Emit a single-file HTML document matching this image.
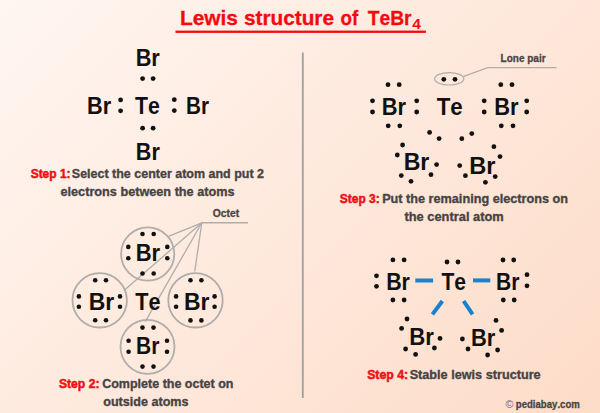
<!DOCTYPE html>
<html><head><meta charset="utf-8"><style>
html,body{margin:0;padding:0;}
body{width:600px;height:413px;overflow:hidden;background:linear-gradient(125deg,#fff7f3 0%,#fde0cf 100%);}
svg{display:block;font-family:"Liberation Sans",sans-serif;font-kerning:none;}
</style></head><body>
<svg width="600" height="413" viewBox="0 0 600 413">
<defs><linearGradient id="bg" x1="0" y1="0" x2="506" y2="506" gradientUnits="userSpaceOnUse">
<stop offset="0" stop-color="#fff6f1"/><stop offset="1" stop-color="#fddcc8"/></linearGradient></defs>
<rect width="600" height="413" fill="url(#bg)"/>
<text x="179.90" y="24.70" font-size="21" font-weight="bold" textLength="57.95" lengthAdjust="spacingAndGlyphs"><tspan fill="#f50a0f" stroke="#f50a0f" stroke-width="0.3" stroke-linejoin="round">Lewis</tspan></text>
<text x="243.97" y="24.70" font-size="21" font-weight="bold" textLength="90.04" lengthAdjust="spacingAndGlyphs"><tspan fill="#f50a0f" stroke="#f50a0f" stroke-width="0.3" stroke-linejoin="round">structure</tspan></text>
<text x="340.57" y="24.70" font-size="21" font-weight="bold" textLength="17.70" lengthAdjust="spacingAndGlyphs"><tspan fill="#f50a0f" stroke="#f50a0f" stroke-width="0.3" stroke-linejoin="round">of</tspan></text>
<text x="367.68" y="24.70" font-size="21" font-weight="bold" textLength="43.91" lengthAdjust="spacingAndGlyphs"><tspan fill="#f50a0f" stroke="#f50a0f" stroke-width="0.3" stroke-linejoin="round">TeBr</tspan></text>
<text x="412.16" y="28.60" font-size="15.2" font-weight="bold" textLength="8.72" lengthAdjust="spacingAndGlyphs"><tspan fill="#f50a0f">4</tspan></text>
<rect x="175.5" y="30.6" width="250.4" height="2.3" fill="#f50a0f"/>
<rect x="301.9" y="52.5" width="1.8" height="345.5" fill="#a0a0a0"/>
<text x="135.64" y="65.60" font-size="23" font-weight="bold" textLength="24.19" lengthAdjust="spacingAndGlyphs"><tspan fill="#111111">Br</tspan></text>
<circle cx="142.6" cy="78.6" r="2.4" fill="#111111"/>
<circle cx="153.1" cy="78.6" r="2.4" fill="#111111"/>
<text x="87.05" y="113.90" font-size="23" font-weight="bold" textLength="24.08" lengthAdjust="spacingAndGlyphs"><tspan fill="#111111">Br</tspan></text>
<circle cx="120.6" cy="99.9" r="2.4" fill="#111111"/>
<circle cx="120.6" cy="110.8" r="2.4" fill="#111111"/>
<text x="134.96" y="113.90" font-size="23" font-weight="bold" textLength="24.76" lengthAdjust="spacingAndGlyphs"><tspan fill="#111111">Te</tspan></text>
<circle cx="174.3" cy="99.7" r="2.4" fill="#111111"/>
<circle cx="174.3" cy="110.6" r="2.4" fill="#111111"/>
<text x="186.12" y="113.90" font-size="23" font-weight="bold" textLength="23.00" lengthAdjust="spacingAndGlyphs"><tspan fill="#111111">Br</tspan></text>
<circle cx="142.6" cy="128.2" r="2.4" fill="#111111"/>
<circle cx="153.1" cy="128.2" r="2.4" fill="#111111"/>
<text x="135.86" y="160.20" font-size="23" font-weight="bold" textLength="23.97" lengthAdjust="spacingAndGlyphs"><tspan fill="#111111">Br</tspan></text>
<text x="30.66" y="178.10" font-size="13.3" font-weight="bold" textLength="39.90" lengthAdjust="spacingAndGlyphs"><tspan fill="#ee1016" stroke="#ee1016" stroke-width="0.55" stroke-linejoin="round">Step 1:</tspan></text>
<text x="71.84" y="178.10" font-size="13.3" font-weight="bold" textLength="192.16" lengthAdjust="spacingAndGlyphs"><tspan fill="#474343" stroke="#474343" stroke-width="0.35" stroke-linejoin="round">Select the center atom and put 2</tspan></text>
<text x="60.50" y="196.20" font-size="13.3" font-weight="bold" textLength="174.02" lengthAdjust="spacingAndGlyphs"><tspan fill="#474343" stroke="#474343" stroke-width="0.35" stroke-linejoin="round">electrons between the atoms</tspan></text>
<line x1="201.8" y1="222.8" x2="168.5" y2="236.3" stroke="#b0adab" stroke-width="1.3" stroke-linecap="butt"/>
<line x1="201.8" y1="222.8" x2="124.0" y2="290.6" stroke="#b0adab" stroke-width="1.3" stroke-linecap="butt"/>
<line x1="201.8" y1="222.8" x2="145.3" y2="321.6" stroke="#b0adab" stroke-width="1.3" stroke-linecap="butt"/>
<line x1="201.8" y1="222.8" x2="194.7" y2="271.5" stroke="#b0adab" stroke-width="1.3" stroke-linecap="butt"/>
<line x1="201.8" y1="222.8" x2="248" y2="222.8" stroke="#b0adab" stroke-width="1.5" stroke-linecap="butt"/>
<text x="212.78" y="216.90" font-size="10.2" font-weight="bold" textLength="26.35" lengthAdjust="spacingAndGlyphs"><tspan fill="#4a4545" stroke="#4a4545" stroke-width="0.3" stroke-linejoin="round">Octet</tspan></text>
<circle cx="147.7" cy="254.0" r="26.6" fill="none" stroke="#b0adab" stroke-width="1.8"/>
<circle cx="99.7" cy="300.3" r="27.2" fill="none" stroke="#b0adab" stroke-width="1.8"/>
<circle cx="195.5" cy="300.3" r="27.2" fill="none" stroke="#b0adab" stroke-width="1.8"/>
<circle cx="147.5" cy="346.8" r="27.0" fill="none" stroke="#b0adab" stroke-width="1.8"/>
<text x="135.73" y="261.40" font-size="24" font-weight="bold" textLength="24.40" lengthAdjust="spacingAndGlyphs"><tspan fill="#111111">Br</tspan></text>
<circle cx="142.5" cy="234.0" r="2.3" fill="#111111"/>
<circle cx="153.7" cy="234.0" r="2.3" fill="#111111"/>
<circle cx="142.5" cy="273.5" r="2.3" fill="#111111"/>
<circle cx="153.7" cy="273.5" r="2.3" fill="#111111"/>
<circle cx="128.3" cy="246.9" r="2.3" fill="#111111"/>
<circle cx="167.3" cy="246.9" r="2.3" fill="#111111"/>
<circle cx="128.3" cy="258.2" r="2.3" fill="#111111"/>
<circle cx="167.3" cy="258.2" r="2.3" fill="#111111"/>
<text x="88.67" y="310.00" font-size="24" font-weight="bold" textLength="25.48" lengthAdjust="spacingAndGlyphs"><tspan fill="#111111">Br</tspan></text>
<circle cx="95.2" cy="280.3" r="2.3" fill="#111111"/>
<circle cx="106.0" cy="280.3" r="2.3" fill="#111111"/>
<circle cx="95.2" cy="320.2" r="2.3" fill="#111111"/>
<circle cx="106.0" cy="320.2" r="2.3" fill="#111111"/>
<circle cx="78.9" cy="296.4" r="2.3" fill="#111111"/>
<circle cx="120.0" cy="296.4" r="2.3" fill="#111111"/>
<circle cx="78.9" cy="306.7" r="2.3" fill="#111111"/>
<circle cx="120.0" cy="306.7" r="2.3" fill="#111111"/>
<text x="184.07" y="310.00" font-size="24" font-weight="bold" textLength="25.48" lengthAdjust="spacingAndGlyphs"><tspan fill="#111111">Br</tspan></text>
<circle cx="190.5" cy="280.3" r="2.3" fill="#111111"/>
<circle cx="201.4" cy="280.3" r="2.3" fill="#111111"/>
<circle cx="190.5" cy="320.4" r="2.3" fill="#111111"/>
<circle cx="201.4" cy="320.4" r="2.3" fill="#111111"/>
<circle cx="176.1" cy="296.4" r="2.3" fill="#111111"/>
<circle cx="214.6" cy="296.4" r="2.3" fill="#111111"/>
<circle cx="176.1" cy="306.7" r="2.3" fill="#111111"/>
<circle cx="214.6" cy="306.7" r="2.3" fill="#111111"/>
<text x="136.00" y="354.00" font-size="24" font-weight="bold" textLength="23.32" lengthAdjust="spacingAndGlyphs"><tspan fill="#111111">Br</tspan></text>
<circle cx="142.5" cy="327.6" r="2.3" fill="#111111"/>
<circle cx="153.5" cy="327.6" r="2.3" fill="#111111"/>
<circle cx="142.5" cy="366.6" r="2.3" fill="#111111"/>
<circle cx="153.5" cy="366.6" r="2.3" fill="#111111"/>
<circle cx="128.6" cy="340.8" r="2.3" fill="#111111"/>
<circle cx="167.0" cy="340.8" r="2.3" fill="#111111"/>
<circle cx="128.6" cy="351.8" r="2.3" fill="#111111"/>
<circle cx="167.0" cy="351.8" r="2.3" fill="#111111"/>
<text x="135.16" y="310.00" font-size="24.5" font-weight="bold" textLength="25.28" lengthAdjust="spacingAndGlyphs"><tspan fill="#111111">Te</tspan></text>
<text x="58.95" y="387.50" font-size="13.3" font-weight="bold" textLength="40.52" lengthAdjust="spacingAndGlyphs"><tspan fill="#ee1016" stroke="#ee1016" stroke-width="0.55" stroke-linejoin="round">Step 2:</tspan></text>
<text x="102.19" y="387.50" font-size="13.3" font-weight="bold" textLength="131.29" lengthAdjust="spacingAndGlyphs"><tspan fill="#474343" stroke="#474343" stroke-width="0.35" stroke-linejoin="round">Complete the octet on</tspan></text>
<text x="103.21" y="405.80" font-size="13.3" font-weight="bold" textLength="85.31" lengthAdjust="spacingAndGlyphs"><tspan fill="#474343" stroke="#474343" stroke-width="0.35" stroke-linejoin="round">outside atoms</tspan></text>
<ellipse cx="449.2" cy="78.8" rx="14.6" ry="6.2" fill="none" stroke="#b0adab" stroke-width="1.2"/>
<circle cx="443.8" cy="79.3" r="2.4" fill="#111111"/>
<circle cx="455.0" cy="79.3" r="2.4" fill="#111111"/>
<polyline points="463.8,76.4 487.7,67.6 556.5,67.6" fill="none" stroke="#b0adab" stroke-width="1.3"/>
<text x="500.53" y="61.90" font-size="10.9" font-weight="bold" textLength="45.12" lengthAdjust="spacingAndGlyphs"><tspan fill="#4a4545" stroke="#4a4545" stroke-width="0.3" stroke-linejoin="round">Lone pair</tspan></text>
<text x="381.84" y="115.00" font-size="24" font-weight="bold" textLength="24.29" lengthAdjust="spacingAndGlyphs"><tspan fill="#111111">Br</tspan></text>
<circle cx="388.0" cy="84.7" r="2.4" fill="#111111"/>
<circle cx="399.2" cy="84.7" r="2.4" fill="#111111"/>
<circle cx="372.5" cy="100.8" r="2.4" fill="#111111"/>
<circle cx="372.5" cy="112.0" r="2.4" fill="#111111"/>
<circle cx="416.7" cy="100.8" r="2.4" fill="#111111"/>
<circle cx="416.7" cy="112.0" r="2.4" fill="#111111"/>
<circle cx="388.2" cy="125.8" r="2.4" fill="#111111"/>
<circle cx="399.8" cy="125.8" r="2.4" fill="#111111"/>
<text x="436.75" y="115.20" font-size="24" font-weight="bold" textLength="26.01" lengthAdjust="spacingAndGlyphs"><tspan fill="#111111">Te</tspan></text>
<text x="494.34" y="115.00" font-size="24" font-weight="bold" textLength="24.29" lengthAdjust="spacingAndGlyphs"><tspan fill="#111111">Br</tspan></text>
<circle cx="500.8" cy="84.7" r="2.4" fill="#111111"/>
<circle cx="512.0" cy="84.7" r="2.4" fill="#111111"/>
<circle cx="484.2" cy="100.8" r="2.4" fill="#111111"/>
<circle cx="484.2" cy="112.0" r="2.4" fill="#111111"/>
<circle cx="526.7" cy="100.8" r="2.4" fill="#111111"/>
<circle cx="526.7" cy="112.0" r="2.4" fill="#111111"/>
<circle cx="501.3" cy="125.8" r="2.4" fill="#111111"/>
<circle cx="513.0" cy="125.8" r="2.4" fill="#111111"/>
<circle cx="429.6" cy="132.4" r="2.4" fill="#111111"/>
<circle cx="439.1" cy="138.6" r="2.4" fill="#111111"/>
<circle cx="461.8" cy="138.7" r="2.4" fill="#111111"/>
<circle cx="471.8" cy="133.6" r="2.4" fill="#111111"/>
<text x="403.65" y="169.80" font-size="24" font-weight="bold" textLength="25.70" lengthAdjust="spacingAndGlyphs"><tspan fill="#111111">Br</tspan></text>
<circle cx="402.6" cy="145" r="2.4" fill="#111111"/>
<circle cx="397.3" cy="155" r="2.4" fill="#111111"/>
<circle cx="401.3" cy="175.6" r="2.4" fill="#111111"/>
<circle cx="411" cy="181.3" r="2.4" fill="#111111"/>
<circle cx="431" cy="174.7" r="2.4" fill="#111111"/>
<circle cx="436.6" cy="164.6" r="2.4" fill="#111111"/>
<text x="469.32" y="173.60" font-size="24" font-weight="bold" textLength="26.24" lengthAdjust="spacingAndGlyphs"><tspan fill="#111111">Br</tspan></text>
<circle cx="493.9" cy="146.7" r="2.4" fill="#111111"/>
<circle cx="500" cy="156.6" r="2.4" fill="#111111"/>
<circle cx="459.7" cy="165.6" r="2.4" fill="#111111"/>
<circle cx="465.4" cy="175.7" r="2.4" fill="#111111"/>
<circle cx="485.4" cy="182.3" r="2.4" fill="#111111"/>
<circle cx="495.2" cy="176.6" r="2.4" fill="#111111"/>
<text x="339.86" y="203.00" font-size="13.3" font-weight="bold" textLength="39.90" lengthAdjust="spacingAndGlyphs"><tspan fill="#ee1016" stroke="#ee1016" stroke-width="0.55" stroke-linejoin="round">Step 3:</tspan></text>
<text x="382.15" y="203.00" font-size="13.3" font-weight="bold" textLength="185.83" lengthAdjust="spacingAndGlyphs"><tspan fill="#474343" stroke="#474343" stroke-width="0.35" stroke-linejoin="round">Put the remaining electrons on</tspan></text>
<text x="404.44" y="221.40" font-size="13.3" font-weight="bold" textLength="99.35" lengthAdjust="spacingAndGlyphs"><tspan fill="#474343" stroke="#474343" stroke-width="0.35" stroke-linejoin="round">the central atom</tspan></text>
<text x="386.17" y="289.50" font-size="24" font-weight="bold" textLength="23.75" lengthAdjust="spacingAndGlyphs"><tspan fill="#111111">Br</tspan></text>
<circle cx="392.9" cy="259.9" r="2.4" fill="#111111"/>
<circle cx="404.1" cy="259.9" r="2.4" fill="#111111"/>
<circle cx="376.5" cy="275.8" r="2.4" fill="#111111"/>
<circle cx="376.5" cy="286.3" r="2.4" fill="#111111"/>
<circle cx="392.9" cy="300" r="2.4" fill="#111111"/>
<circle cx="404.1" cy="300" r="2.4" fill="#111111"/>
<line x1="415.3" y1="280.5" x2="433.1" y2="280.5" stroke="#1a80d0" stroke-width="4" stroke-linecap="butt"/>
<text x="441.46" y="290.00" font-size="24" font-weight="bold" textLength="24.56" lengthAdjust="spacingAndGlyphs"><tspan fill="#111111">Te</tspan></text>
<circle cx="447" cy="262" r="2.4" fill="#111111"/>
<circle cx="458" cy="262" r="2.4" fill="#111111"/>
<line x1="473" y1="280.4" x2="490.3" y2="280.4" stroke="#1a80d0" stroke-width="4" stroke-linecap="butt"/>
<text x="496.09" y="290.00" font-size="24" font-weight="bold" textLength="23.43" lengthAdjust="spacingAndGlyphs"><tspan fill="#111111">Br</tspan></text>
<circle cx="503" cy="260" r="2.4" fill="#111111"/>
<circle cx="513.7" cy="260" r="2.4" fill="#111111"/>
<circle cx="527" cy="274.7" r="2.4" fill="#111111"/>
<circle cx="527" cy="285.8" r="2.4" fill="#111111"/>
<circle cx="503.3" cy="300" r="2.4" fill="#111111"/>
<circle cx="514.2" cy="300" r="2.4" fill="#111111"/>
<line x1="442.4" y1="301" x2="432.4" y2="314.4" stroke="#1a80d0" stroke-width="4" stroke-linecap="butt"/>
<line x1="463.6" y1="301" x2="472.6" y2="314.4" stroke="#1a80d0" stroke-width="4" stroke-linecap="butt"/>
<text x="409.32" y="344.60" font-size="24" font-weight="bold" textLength="24.62" lengthAdjust="spacingAndGlyphs"><tspan fill="#111111">Br</tspan></text>
<circle cx="407" cy="319" r="2.4" fill="#111111"/>
<circle cx="401.6" cy="328.4" r="2.4" fill="#111111"/>
<circle cx="405.6" cy="349" r="2.4" fill="#111111"/>
<circle cx="415.6" cy="354.4" r="2.4" fill="#111111"/>
<circle cx="434.4" cy="348" r="2.4" fill="#111111"/>
<circle cx="440" cy="338.4" r="2.4" fill="#111111"/>
<text x="471.04" y="345.80" font-size="24" font-weight="bold" textLength="24.29" lengthAdjust="spacingAndGlyphs"><tspan fill="#111111">Br</tspan></text>
<circle cx="462.4" cy="339" r="2.4" fill="#111111"/>
<circle cx="468" cy="349" r="2.4" fill="#111111"/>
<circle cx="487.6" cy="355" r="2.4" fill="#111111"/>
<circle cx="497.6" cy="350" r="2.4" fill="#111111"/>
<circle cx="501.6" cy="330.4" r="2.4" fill="#111111"/>
<circle cx="496" cy="320.4" r="2.4" fill="#111111"/>
<text x="367.15" y="378.80" font-size="13.3" font-weight="bold" textLength="41.04" lengthAdjust="spacingAndGlyphs"><tspan fill="#ee1016" stroke="#ee1016" stroke-width="0.55" stroke-linejoin="round">Step 4:</tspan></text>
<text x="409.63" y="378.80" font-size="13.3" font-weight="bold" textLength="131.00" lengthAdjust="spacingAndGlyphs"><tspan fill="#474343" stroke="#474343" stroke-width="0.35" stroke-linejoin="round">Stable lewis structure</tspan></text>
<text x="505.44" y="408.00" font-size="10.5" font-weight="normal" textLength="7.93" lengthAdjust="spacingAndGlyphs"><tspan fill="#6a6565">©</tspan></text>
<text x="515.77" y="408.20" font-size="10.2" font-weight="bold" textLength="64.03" lengthAdjust="spacingAndGlyphs"><tspan fill="#4a4545" stroke="#4a4545" stroke-width="0.3" stroke-linejoin="round">pediabay.com</tspan></text>
</svg>
</body></html>
